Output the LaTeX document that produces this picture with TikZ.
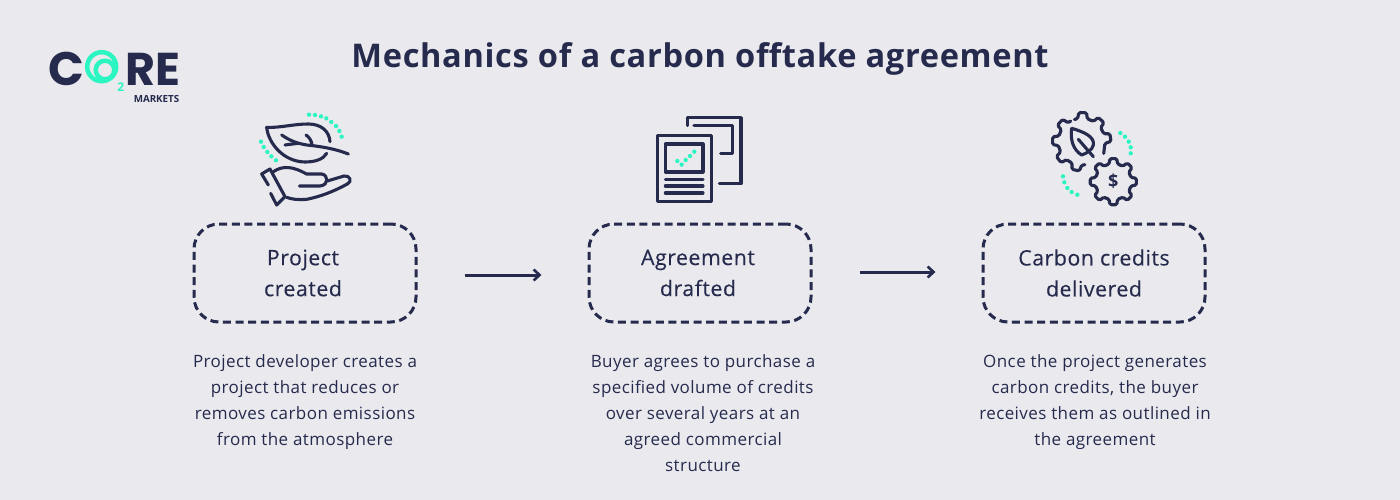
\documentclass[tikz,border=0pt]{standalone}
\usepackage{fontspec}
\setmainfont{Open Sans}
\usetikzlibrary{arrows.meta}
\definecolor{navy}{HTML}{262B4D}
\definecolor{mint}{HTML}{2BF5C0}
\definecolor{paper}{HTML}{E9E9EE}
\newfontfamily\bodyfont[LetterSpace=2.5]{Open Sans}
\newfontfamily\labelfont[LetterSpace=2.5,FakeBold=0.2]{Open Sans}
\newfontfamily\titlefont[LetterSpace=2]{Open Sans}
\newfontfamily\logofont{Poppins}
\newcommand{\gearteeth}[4]{% root radius, tip radius, step, list of angles
	\foreach \a in {#4} {
		\draw [icon,rounded corners=1.5pt] (\a-0.5*#3:#1) -- (\a-0.3*#3:#1) -- (\a-0.19*#3:#2) -- (\a+0.19*#3:#2) -- (\a+0.3*#3:#1) -- (\a+0.5*#3:#1);
	}
}
\tikzset{
	icon/.style={navy,line width=3.1pt,line cap=round,line join=round},
	dot/.style={mint,fill=mint,draw=none},
	stepbox/.style={draw=navy,line width=3pt,dash pattern=on 8pt off 4.6pt,rounded corners=25pt,minimum width=222pt,minimum height=98pt,align=center,text=navy,font=\labelfont\fontsize{21.3}{31}\selectfont},
	note/.style={anchor=north,align=center,text=navy,font=\bodyfont\fontsize{17}{26}\selectfont},
	flow/.style={->,navy,line width=3pt,>={Straight Barb[length=6pt,width=11pt,line width=2.6pt]},shorten <=47pt,shorten >=46pt},
}
\begin{document}
\begin{tikzpicture}[x=1pt,y=-1pt]
	\fill [paper] (0,0) rectangle (1400,500);
	\useasboundingbox (0,0) rectangle (1400,500);
	% TITLE
	\node (title) [text=navy,font=\titlefont\bfseries\fontsize{32.6}{40}\selectfont] at (700,59) {Mechanics of a carbon offtake agreement};
	% LOGO
	\node (logoc) [text=navy,inner sep=0pt,font=\logofont\bfseries\fontsize{47}{47}\selectfont,anchor=west] at (48,69) {C};
	\node (logore) [text=navy,inner sep=0pt,font=\logofont\bfseries\fontsize{46}{46}\selectfont,anchor=east] at (181,69) {RE};
	\draw [mint,line width=4.5pt] (101.7,66.7) circle (14.5pt);
	\draw [mint,line width=4.5pt] (105,70) circle (9.3pt);
	\node (logotwo) [text=mint,inner sep=0pt,font=\bfseries\fontsize{12}{12}\selectfont] at (120.7,87) {2};
	\node (logomarkets) [text=navy,anchor=east,inner sep=0pt,font=\bfseries\fontsize{9.8}{10}\selectfont] at (179.5,99) {MARKETS};
	% BOXES
	\node (boxa) [stepbox] at (305,273) {\hspace*{-4pt}Project\\\hspace*{-4pt}created};
	\node (boxb) [stepbox] at (700,273) {\hspace*{-4pt}Agreement\\\hspace*{-4pt}drafted};
	\node (boxc) [stepbox] at (1094,273) {Carbon credits\\delivered};
	\draw [flow] ([yshift=-2pt]boxa.east) -- ([yshift=-2pt]boxb.west);
	\draw [flow] ([yshift=1pt]boxb.east) -- ([yshift=1pt]boxc.west);
	% NOTES
	\node (notea) [note] at (305,351) {Project developer creates a\\project that reduces or\\removes carbon emissions\\from the atmosphere};
	\node (noteb) [note] at (703,351) {Buyer agrees to purchase a\\specified volume of credits\\over several years at an\\agreed commercial\\structure};
	\node (notec) [note] at (1095,351) {Once the project generates\\carbon credits, the buyer\\receives them as outlined in\\the agreement};
	% LEAF AND HAND
	\begin{scope}[shift={(240,100)},scale=1/3]
		\draw [icon] (270,125) .. controls (268,95) and (245,72) .. (205,72) .. controls (160,72) and (120,84) .. (80,82) .. controls (85,130) and (130,185) .. (195,186) .. controls (225,186) and (250,178) .. (260,160);
		\draw [icon] (125,105) .. controls (150,122) and (170,130) .. (200,135) .. controls (250,140) and (290,148) .. (325,162);
		\draw [icon] (135,135) -- (175,130);
		\draw [icon] (198,105) .. controls (208,112) and (215,122) .. (216,135);
		\draw [icon] (85,255) -- (65,222) -- (90,207) -- (135,290) -- (110,315) -- (92,280);
		\draw [icon] (100,215) .. controls (130,195) and (160,200) .. (200,222) -- (245,222) .. controls (265,225) and (268,255) .. (240,258) -- (178,258);
		\draw [icon] (262,243) -- (312,228) .. controls (330,225) and (338,245) .. (322,252) .. controls (280,275) and (240,290) .. (200,298) .. controls (175,300) and (155,298) .. (140,292);
		\foreach \px/\py in {207/44,225/45,243/49,259/55,274/66,288/78,298/93,305/110,63/125,71/141,82/156,94/169,108/181}
			\fill [dot] (\px,\py) circle (6.5);
	\end{scope}
	% DOCUMENTS
	\begin{scope}[shift={(640,105)},scale=1/3]
		\draw [icon] (143,62) -- (143,38) -- (303,38) -- (303,236) -- (238,236);
		\draw [icon] (162,62) -- (277,62) -- (277,146) -- (242,146);
		\draw [icon] (52,92) rectangle (214,290);
		\draw [icon] (76,117) rectangle (189,201);
		\foreach \py in {224,243,264}
			\draw [icon] (76,\py) -- (189,\py);
		\foreach \px/\py in {112/168,125/179,137/165,150/153,163/140}
			\fill [dot] (\px,\py) circle (6.5);
	\end{scope}
	% GEARS
	\begin{scope}[shift={(1035,100)},scale=1/3]
		\begin{scope}[shift={(140,125)}]
			\gearteeth{70}{88}{40}{-88,-48,-8,102,142,182,222}
			\draw [icon] (12:70) -- (28:75);
		\end{scope}
		\begin{scope}[shift={(235,245)}]
			\gearteeth{54}{70}{45}{-90,-45,0,45,90,135,180,225}
		\end{scope}
		\draw [icon] (110,85) .. controls (145,95) and (180,110) .. (175,135) .. controls (172,150) and (155,160) .. (140,165) .. controls (115,150) and (105,120) .. (110,85);
		\draw [icon] (130,118) -- (175,170);
		\node (dollar) [text=navy,font=\bfseries\fontsize{18}{18}\selectfont] at (235,245) {\$};
		\foreach \px/\py in {256/99,270/110,281/125,287/142,287/160,84/229,88/247,97/264,110/276,127/284}
			\fill [dot] (\px,\py) circle (6.5);
	\end{scope}
\end{tikzpicture}
\end{document}
